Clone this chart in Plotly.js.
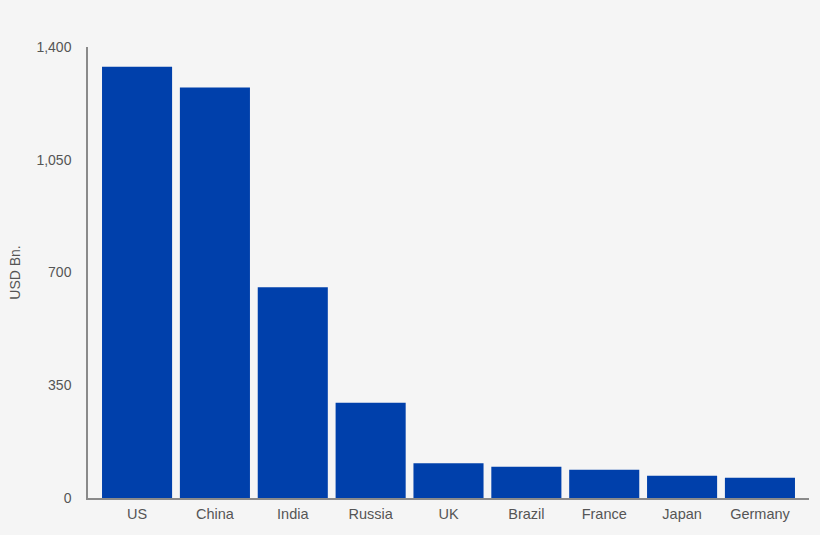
<!DOCTYPE html>
<html><head><meta charset="utf-8">
<script src="https://cdn.plot.ly/plotly-3.0.1.min.js"></script>
<style>html,body{margin:0;padding:0;background:#f5f5f5;}</style>
</head><body>
<div id="chart" style="width:820px;height:535px;"></div>
<script>
var countries = ["US","China","India","Russia","UK","Brazil","France","Japan","Germany"];
var values = [1339, 1274, 654, 296, 108, 97, 88, 69, 63];
var yTicks = [0, 350, 700, 1050, 1400];
var yTickLabels = ["0", "350", "700", "1,050", "1,400"];

var trace = {
  type: "bar",
  x: countries,
  y: values,
  marker: {color: "#0040ab", line: {width: 0}},
  hoverinfo: "x+y"
};
var layout = {
  width: 820, height: 535,
  paper_bgcolor: "#f5f5f5", plot_bgcolor: "#f5f5f5",
  margin: {l: 88, r: 11, t: 47, b: 37},
  bargap: 0.1,
  showlegend: false,
  font: {family: "Liberation Sans, Arial, sans-serif", size: 14, color: "#555"},
  xaxis: {
    range: [-0.63, 8.63],
    showline: true, linecolor: "#8a8a8a", linewidth: 1.5,
    showgrid: false, zeroline: false, ticks: "",
    ticklabelstandoff: 2,
    tickfont: {size: 14.5, color: "#555"}
  },
  yaxis: {
    range: [0, 1400],
    tickvals: yTicks, ticktext: yTickLabels,
    showline: true, linecolor: "#8a8a8a", linewidth: 1.5,
    showgrid: false, zeroline: false, ticks: "",
    ticklabelstandoff: 12,
    tickfont: {size: 14, color: "#555"},
    title: {text: "USD Bn.", font: {size: 14, color: "#555"}, standoff: 13}
  }
};
Plotly.newPlot("chart", [trace], layout, {displayModeBar: false});
</script>
</body></html>
